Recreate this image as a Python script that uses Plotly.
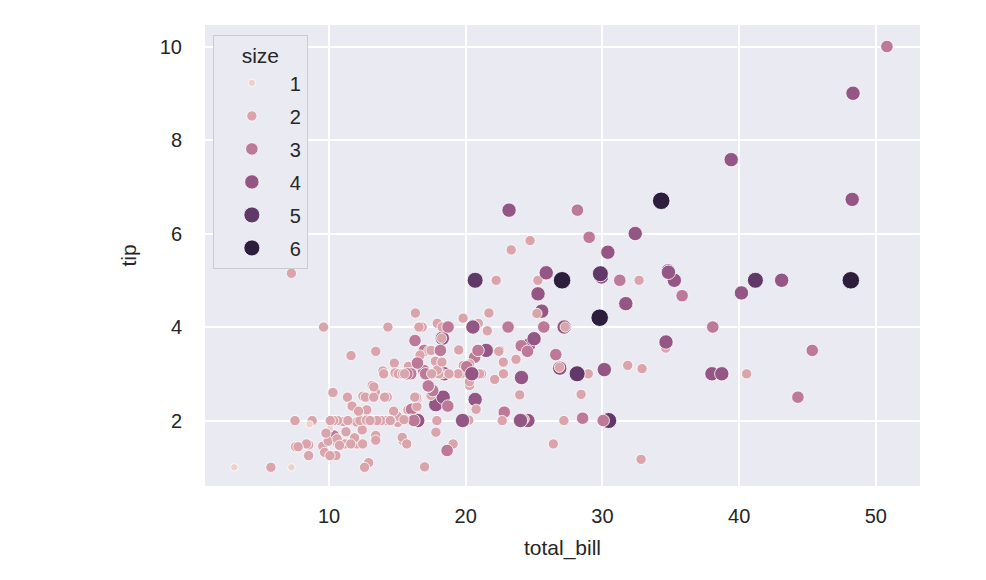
import numpy as np
import plotly.graph_objects as go

# ---- data (tips: total_bill, tip, party size) ----
total_bill = [16.99,10.34,21.01,23.68,24.59,25.29,8.77,26.88,15.04,14.78,10.27,35.26,15.42,18.43,14.83,21.58,10.33,16.29,16.97,20.65,
17.92,20.29,15.77,39.42,19.82,17.81,13.37,12.69,21.7,19.65,9.55,18.35,15.06,20.69,17.78,24.06,16.31,16.93,18.69,31.27,
16.04,17.46,13.94,9.68,30.4,18.29,22.23,32.4,28.55,18.04,12.54,10.29,34.81,9.94,25.56,19.49,38.01,26.41,11.24,48.27,
20.29,13.81,11.02,18.29,17.59,20.08,16.45,3.07,20.23,15.01,12.02,17.07,26.86,25.28,14.73,10.51,17.92,27.2,22.76,17.29,
19.44,16.66,10.07,32.68,15.98,34.83,13.03,18.28,24.71,21.16,28.97,22.49,5.75,16.32,22.75,40.17,27.28,12.03,21.01,12.46,
11.35,15.38,44.3,22.42,20.92,15.36,20.49,25.21,18.24,14.31,14.0,7.25,38.07,23.95,25.71,17.31,29.93,10.65,12.43,24.08,
11.69,13.42,14.26,15.95,12.48,29.8,8.52,14.52,11.38,22.82,19.08,20.27,11.17,12.26,18.26,8.51,10.33,14.15,16.0,13.16,
17.47,34.3,41.19,27.05,16.43,8.35,18.64,11.87,9.78,7.51,14.07,13.13,17.26,24.55,19.77,29.85,48.17,25.0,13.39,16.49,
21.5,12.66,16.21,13.81,17.51,24.52,20.76,31.71,10.59,10.63,50.81,15.81,7.25,31.85,16.82,32.9,17.89,14.48,9.6,34.63,
34.65,23.33,45.35,23.17,40.55,20.69,20.9,30.46,18.15,23.1,15.69,19.81,28.44,15.48,16.58,7.56,10.34,43.11,13.0,13.51,
18.71,12.74,13.0,16.4,20.53,16.47,26.59,38.73,24.27,12.76,30.06,25.89,48.33,13.27,28.17,12.9,28.15,11.59,7.74,30.14,
12.16,13.42,8.58,15.98,13.42,16.27,10.09,20.45,13.28,22.12,24.01,15.69,11.61,10.77,15.53,10.07,12.6,32.83,35.83,29.03,
27.18,22.67,17.82,18.78]

tip = [1.01,1.66,3.5,3.31,3.61,4.71,2.0,3.12,1.96,3.23,1.71,5.0,1.57,3.0,3.02,3.92,1.67,3.71,3.5,3.35,
4.08,2.75,2.23,7.58,3.18,2.34,2.0,2.0,4.3,3.0,1.45,2.5,3.0,2.45,3.27,3.6,2.0,3.07,2.31,5.0,
2.24,2.54,3.06,1.32,5.6,3.0,5.0,6.0,2.05,3.0,2.5,2.6,5.2,1.56,4.34,3.51,3.0,1.5,1.76,6.73,
3.21,2.0,1.98,3.76,2.64,3.15,2.47,1.0,2.01,2.09,1.97,3.0,3.14,5.0,2.2,1.25,3.08,4.0,3.0,2.71,
3.0,3.4,1.83,5.0,2.03,5.17,2.0,4.0,5.85,3.0,3.0,3.5,1.0,4.3,3.25,4.73,4.0,1.5,3.0,1.5,
2.5,3.0,2.5,3.48,4.08,1.64,4.06,4.29,3.76,4.0,3.0,1.0,4.0,2.55,4.0,3.5,5.07,1.5,1.8,2.92,
2.31,1.68,2.5,2.0,2.52,4.2,1.48,2.0,2.0,2.18,1.5,2.83,1.5,2.0,3.25,1.25,2.0,2.0,2.0,2.75,
3.5,6.7,5.0,5.0,2.3,1.5,1.36,1.63,1.73,2.0,2.5,2.0,2.74,2.0,2.0,5.14,5.0,3.75,2.61,2.0,
3.5,2.5,2.0,2.0,3.0,3.48,2.24,4.5,1.61,2.0,10.0,3.16,5.15,3.18,4.0,3.11,2.0,2.0,4.0,3.55,
3.68,5.65,3.5,6.5,3.0,5.0,3.5,2.0,3.5,4.0,1.5,4.19,2.56,2.02,4.0,1.44,2.0,5.0,2.0,2.0,
4.0,2.01,2.0,2.5,4.0,3.23,3.41,3.0,2.03,2.23,2.0,5.16,9.0,2.5,6.5,1.1,3.0,1.5,1.44,3.09,
2.2,3.48,1.92,3.0,1.58,2.5,2.0,3.0,2.72,2.88,2.0,3.0,3.39,1.47,3.0,1.25,1.0,1.17,4.67,5.92,
2.0,2.0,1.75,3.0]

size = [2,3,3,2,4,4,2,4,2,2,2,4,2,4,2,2,3,3,3,3,
2,2,2,4,2,4,2,2,2,2,2,4,2,4,2,3,3,3,3,3,
3,2,2,2,4,2,2,4,3,2,2,2,4,2,4,2,4,2,2,4,
2,2,2,4,3,3,2,1,2,2,2,3,2,2,2,2,2,4,2,2,
2,2,1,2,2,4,2,2,2,2,2,2,2,2,2,4,2,2,2,2,
2,2,3,2,2,2,2,2,2,2,2,1,3,2,3,2,4,2,2,4,
2,2,2,2,2,6,2,2,2,3,2,2,2,2,2,2,2,2,2,2,
2,6,5,6,2,2,3,2,2,2,2,2,3,4,4,5,6,4,2,4,
4,2,3,2,2,3,2,4,2,2,3,2,2,2,2,2,2,2,2,2,
4,2,3,4,2,5,3,5,3,3,2,2,2,2,2,2,2,4,2,2,
3,2,2,2,4,3,3,4,2,2,3,4,4,2,3,2,5,2,2,4,
2,2,1,3,2,2,2,4,2,2,4,3,2,2,2,2,2,2,3,3,
2,2,2,2]

size_levels = [1, 2, 3, 4, 5, 6]
x_ticks = [10, 20, 30, 40, 50]
y_ticks = [2, 4, 6, 8, 10]

# ---- seaborn default cubehelix colormap ----
def cubehelix(t, start=0.0, rot=0.4, gamma=1.0, hue=0.8, light=0.85, dark=0.15):
    x = light + (dark - light) * t
    xg = x ** gamma
    a = hue * xg * (1 - xg) / 2
    phi = 2 * np.pi * (start / 3 + rot * x)
    r = xg + a * (-0.14861 * np.cos(phi) + 1.78277 * np.sin(phi))
    g = xg + a * (-0.29227 * np.cos(phi) - 0.90649 * np.sin(phi))
    b = xg + a * (1.97294 * np.cos(phi))
    rgb = [int(round(min(max(v, 0), 1) * 255)) for v in (r, g, b)]
    return "rgb({},{},{})".format(*rgb)

smin, smax = min(size_levels), max(size_levels)
color_map = {s: cubehelix((s - smin) / (smax - smin)) for s in size_levels}
px_min, px_max = 7.5, 17.5
size_map = {s: float(np.sqrt(px_min**2 + (px_max**2 - px_min**2) * (s - smin) / (smax - smin)))
            for s in size_levels}

TXT = "#262626"
FONT = "Arial, Liberation Sans, sans-serif"
TICK_FS = 20
LABEL_FS = 21

fig = go.Figure()
fig.add_trace(go.Scatter(
    x=total_bill, y=tip, mode="markers", showlegend=False,
    marker=dict(color=[color_map[s] for s in size], size=[size_map[s] for s in size],
                line=dict(color="white", width=0.8), opacity=1),
    hoverinfo="x+y",
))
for s in size_levels:
    fig.add_trace(go.Scatter(
        x=[None], y=[None], mode="markers", name=str(s), legendgroup=str(s),
        marker=dict(color=color_map[s], size=size_map[s], line=dict(color="white", width=0.8)),
    ))

fig.update_layout(
    width=978, height=572,
    margin=dict(l=197, r=66, t=17, b=94),
    paper_bgcolor="white", plot_bgcolor="#EAEAF2",
    font=dict(family=FONT, size=TICK_FS, color=TXT),
    legend=dict(
        title=dict(text="size", side="top center", font=dict(size=LABEL_FS, color=TXT)),
        x=0.011, y=0.978, xanchor="left", yanchor="top",
        bgcolor="#EAEAF2", bordercolor="#CCCCCC", borderwidth=1,
        font=dict(size=TICK_FS, color=TXT), tracegroupgap=4, itemwidth=66,
    ),
    xaxis=dict(range=[0.93, 53.23], tickvals=x_ticks, showgrid=True,
               gridcolor="white", gridwidth=1.6, zeroline=False, showline=False, ticks="",
               ticklabelstandoff=16,
               title=dict(text="total_bill", standoff=14, font=dict(size=LABEL_FS, color=TXT)),
               tickfont=dict(size=TICK_FS, color=TXT)),
    yaxis=dict(range=[0.6, 10.46], tickvals=y_ticks, showgrid=True,
               gridcolor="white", gridwidth=1.6, zeroline=False, showline=False, ticks="",
               ticklabelstandoff=22,
               title=dict(text="tip", standoff=17, font=dict(size=LABEL_FS, color=TXT)),
               tickfont=dict(size=TICK_FS, color=TXT)),
)

fig.write_html("out.html")
